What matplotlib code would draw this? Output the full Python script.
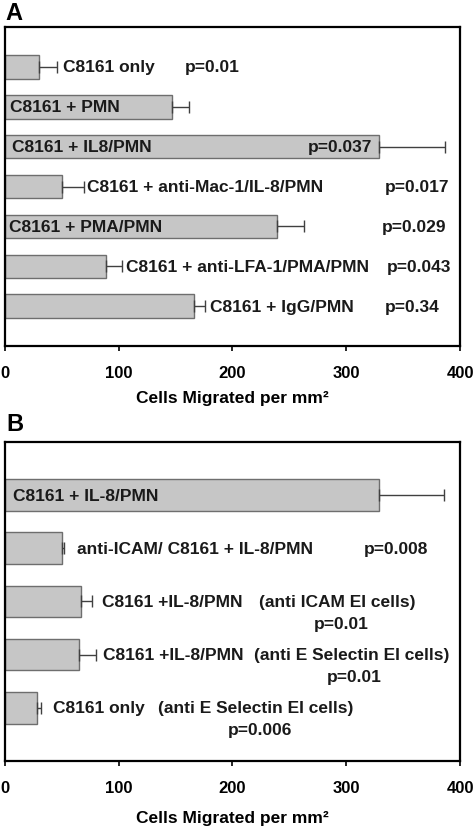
import matplotlib
matplotlib.use("Agg")
import matplotlib.pyplot as plt
import numpy as np

plt.rcParams['font.family'] = ['Liberation Sans', 'DejaVu Sans']
plt.rcParams['font.weight'] = 'bold'

# --- Panel A data ---
a_values = [30, 147, 329, 50, 239, 89, 166]
a_errors = [16, 15, 58, 20, 24, 14, 10]
a_labels = ["C8161 only", "C8161 + PMN", "C8161 + IL8/PMN",
            "C8161 + anti-Mac-1/IL-8/PMN", "C8161 + PMA/PMN",
            "C8161 + anti-LFA-1/PMA/PMN", "C8161 + IgG/PMN"]
a_label_x = [51.5, 4.7, 6, 72.6, 4, 106.6, 180.5]
a_pvals = ["p=0.01", "", "p=0.037", "p=0.017", "p=0.029", "p=0.043", "p=0.34"]
a_pval_x = [158.5, 0, 266, 334, 331.4, 335.8, 333.7]

# --- Panel B data ---
b_values = [329, 50, 67, 65, 28]
b_errors = [57, 2, 10, 15, 4]
b_labels = ["C8161 + IL-8/PMN", "anti-ICAM/ C8161 + IL-8/PMN",
            "C8161 +IL-8/PMN", "C8161 +IL-8/PMN", "C8161 only"]
b_label_x = [7.6, 63.3, 85.3, 86.2, 42.2]
b_notes = ["", "", "(anti ICAM EI cells)", "(anti E Selectin EI cells)",
           "(anti E Selectin EI cells)"]
b_note_x = [0, 0, 223.8, 218.6, 135]
b_pvals = ["", "p=0.008", "p=0.01", "p=0.01", "p=0.006"]
b_pval_x = [0, 315.3, 271.3, 283, 195.7]
b_pval_below = [False, False, True, True, True]

x_ticks = [0, 100, 200, 300, 400]
x_label = "Cells Migrated per mm²"

bar_color = '#c6c6c6'
edge_color = '#6e6e6e'
fs = 12.5

fig = plt.figure(figsize=(4.74, 8.29), dpi=100)
ax_a = fig.add_axes([0.0099, 0.5814, 0.9606, 0.3848])
ax_b = fig.add_axes([0.0099, 0.0812, 0.9606, 0.3841])


def style_axis(ax, n):
    ax.set_xlim(0, 400)
    ax.set_ylim(n, -1)
    ax.set_yticks([])
    ax.set_xticks(x_ticks)
    ax.set_xticklabels([str(t) for t in x_ticks], fontsize=12, fontweight='bold')
    ax.tick_params(axis='x', direction='out', length=3.6, width=1.2, pad=10)
    for s in ax.spines.values():
        s.set_linewidth(1.6)
        s.set_color('black')
    ax.set_xlabel(x_label, fontsize=fs, fontweight='bold')


# Panel A
ya = np.arange(len(a_values))
ax_a.barh(ya, a_values, height=0.59, color=bar_color, edgecolor=edge_color,
          linewidth=1, zorder=2)
ax_a.errorbar(a_values, ya, xerr=[np.zeros(len(a_errors)), a_errors], fmt='none',
              ecolor='#404040', elinewidth=1, capsize=4, capthick=1, zorder=3)
for i in range(len(a_values)):
    ax_a.text(a_label_x[i], ya[i], a_labels[i], fontsize=fs, fontweight='bold',
              va='center', ha='left', color='#1a1a1a', zorder=4)
    if a_pvals[i]:
        ax_a.text(a_pval_x[i], ya[i], a_pvals[i], fontsize=fs, fontweight='bold',
                  va='center', ha='left', color='#1a1a1a', zorder=4)
style_axis(ax_a, len(a_values))
ax_a.xaxis.set_label_coords(0.5, -0.137)

# Panel B
yb = np.arange(len(b_values))
ax_b.barh(yb, b_values, height=0.6, color=bar_color, edgecolor=edge_color,
          linewidth=1, zorder=2)
ax_b.errorbar(b_values, yb, xerr=[np.zeros(len(b_errors)), b_errors], fmt='none',
              ecolor='#404040', elinewidth=1, capsize=4, capthick=1, zorder=3)
for i in range(len(b_values)):
    ax_b.text(b_label_x[i], yb[i], b_labels[i], fontsize=fs, fontweight='bold',
              va='center', ha='left', color='#1a1a1a', zorder=4)
    if b_notes[i]:
        ax_b.text(b_note_x[i], yb[i], b_notes[i], fontsize=fs, fontweight='bold',
                  va='center', ha='left', color='#1a1a1a', zorder=4)
    if b_pvals[i]:
        off = 0.42 if b_pval_below[i] else 0
        ax_b.text(b_pval_x[i], yb[i] + off, b_pvals[i], fontsize=fs,
                  fontweight='bold', va='center', ha='left', color='#1a1a1a',
                  zorder=4)
style_axis(ax_b, len(b_values))
ax_b.xaxis.set_label_coords(0.5, -0.155)

fig.text(0.0106, 0.9843, "A", fontsize=17, fontweight='bold', va='center', ha='left')
fig.text(0.0141, 0.4885, "B", fontsize=17, fontweight='bold', va='center', ha='left')

fig.savefig("out.png", dpi=100)
